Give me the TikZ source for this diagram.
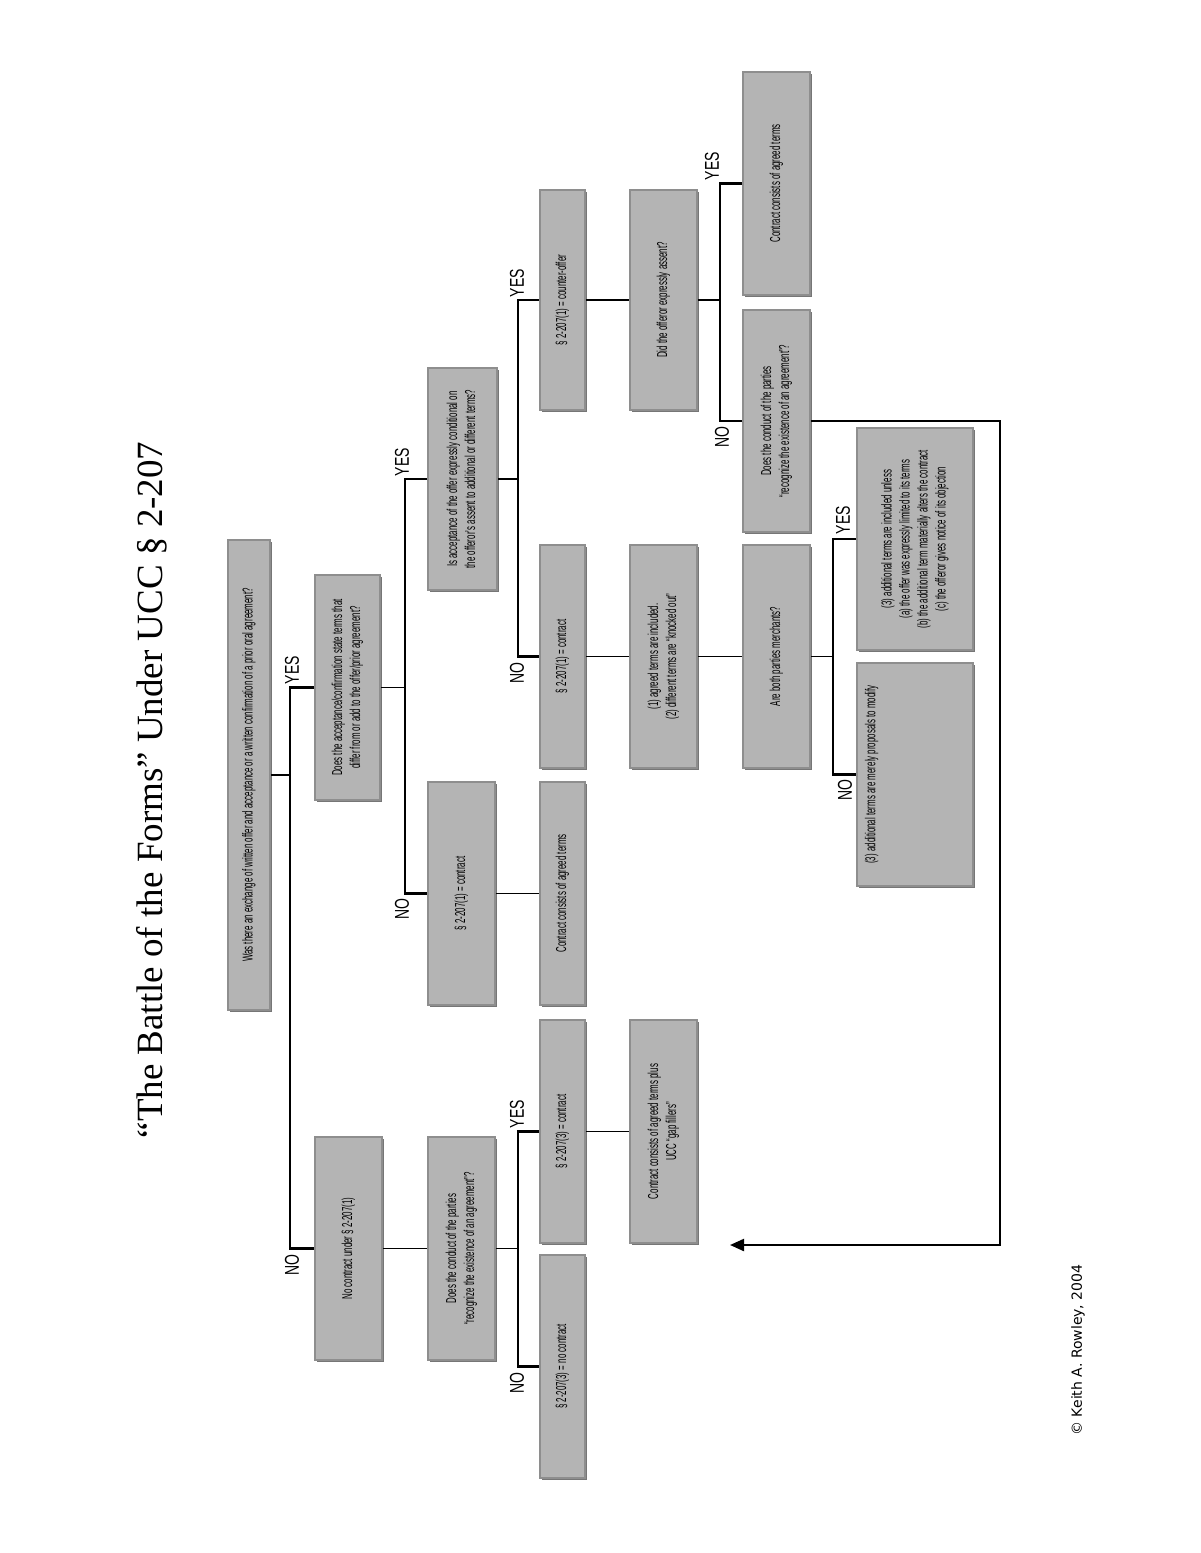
\documentclass[tikz,border=0pt]{standalone}
\usepackage{fontspec}
\usepackage{graphicx}
\usetikzlibrary{arrows.meta,shadows}
\newfontfamily\boxfam[FakeStretch=0.55]{Liberation Sans}
\newfontfamily\ynfam[FakeStretch=0.7]{Liberation Sans}
\newfontfamily\titlefam{Liberation Serif}
\newfontfamily\dvfam{DejaVu Sans}
\newcommand{\boxfont}{\boxfam\fontsize{7.2}{9}\selectfont}
\definecolor{boxfill}{HTML}{B4B4B4}
\definecolor{boxedge}{HTML}{8E8E8E}
\definecolor{boxshade}{HTML}{767676}
\newcommand{\bx}[6]{\node[box, minimum width={(#4-#2)*0.5pt}, minimum height={(#5-#3)*0.5pt}] (#1) at ({(#2+#4)/2},{(#3+#5)/2}) {\rotatebox{90}{\begin{tabular}{@{}c@{}}#6\end{tabular}}};}
\begin{document}
\begin{tikzpicture}[x=0.5pt,y=-0.5pt,
  box/.style={draw=boxedge, line width=0.8pt, fill=boxfill, inner sep=0pt, font=\boxfont,
    drop shadow={shadow xshift=0.9pt, shadow yshift=-0.9pt, fill=boxshade, opacity=1}},
  conn/.style={draw=black, line width=0.6pt},
  bracket/.style={draw=black, line width=1.1pt},
  yn/.style={rotate=90, inner sep=0pt, font=\ynfam\fontsize{10}{11}\selectfont}]
\useasboundingbox (0,0) rectangle (1200,1553);
\fill[white] (0,0) rectangle (1200,1553);
% title and credit
\node[rotate=90, font=\titlefam\fontsize{18.5}{21}\selectfont] (title) at (152,790) {“The Battle of the Forms” Under UCC § 2-207};
\node[rotate=90, font=\dvfam\fontsize{7}{8}\selectfont] (credit) at (1078,1350) {© Keith A. Rowley, 2004};
% boxes
\bx{q1}{228}{540}{270}{1010}{Was there an exchange of written offer and acceptance or a written confirmation of a prior oral agreement?}
\bx{q2}{315}{575}{380}{800}{Does the acceptance/confirmation state terms that\\differ from or add to the offer/prior agreement?}
\bx{q3}{428}{782}{495}{1005}{§ 2-207(1) = contract}
\bx{q4}{540}{782}{585}{1005}{Contract consists of agreed terms}
\bx{q5}{428}{368}{497}{590}{Is acceptance of the offer expressly conditional on\\the offeror’s assent to additional or different terms?}
\bx{q6}{540}{545}{585}{768}{§ 2-207(1) = contract}
\bx{q7}{630}{545}{697}{768}{(1) agreed terms are included.\\(2) different terms are “knocked out”}
\bx{q8}{743}{545}{810}{768}{Are both parties merchants?}
\node[box, minimum width={(973-857)*0.5pt}, minimum height={(886-663)*0.5pt}] (q9) at ({(857+973)/2},{(663+886)/2}) {\rotatebox{90}{\parbox[c][54pt][t]{110pt}{\centering\vspace{2pt}(3) additional terms are merely proposals to modify}}};
\bx{q10}{857}{428}{973}{650}{(3) additional terms are included unless\\(a) the offer was expressly limited to its terms\\(b) the additional term materially alters the contract\\(c) the offeror gives notice of its objection}
\bx{q11}{540}{190}{585}{410}{§ 2-207(1) = counter-offer}
\bx{q12}{630}{190}{697}{410}{Did the offeror expressly assent?}
\bx{q13}{743}{310}{810}{532}{Does the conduct of the parties\\“recognize the existence of an agreement”?}
\bx{q14}{743}{72}{810}{295}{Contract consists of agreed terms}
\bx{q15}{315}{1137}{382}{1360}{No contract under § 2-207(1)}
\bx{q16}{428}{1137}{495}{1360}{Does the conduct of the parties\\“recognize the existence of an agreement”?}
\bx{q17}{540}{1255}{585}{1478}{§ 2-207(3) = no contract}
\bx{q18}{540}{1020}{585}{1243}{§ 2-207(3) = contract}
\bx{q19}{630}{1020}{697}{1243}{Contract consists of agreed terms plus\\UCC “gap fillers”}
% junction points
\coordinate (j1) at (290,775);
\coordinate (j2) at (405,687.5);
\coordinate (j3) at (518,479);
\coordinate (j4) at (833,656.5);
\coordinate (j5) at (720,300);
\coordinate (j6) at (518,1248.5);
\coordinate (rt) at (1000,1245);
\coordinate (arr) at (730,1245);
% connectors
\draw[conn] (q1.east) -- (j1);
\draw[bracket, line width=1.4pt] (q2.west) -- (q2.west -| j1) -- (q15.west -| j1) -- (q15.west);
\draw[conn] (q2.east) -- (j2);
\draw[bracket] (q5.west) -- (q5.west -| j2) -- (q3.west -| j2) -- (q3.west);
\draw[conn] (q3.east) -- (q4.west);
\draw[conn] (q5.east) -- (j3);
\draw[bracket] (q11.west) -- (q11.west -| j3) -- (q6.west -| j3) -- (q6.west);
\draw[conn] (q6.east) -- (q7.west);
\draw[conn] (q7.east) -- (q8.west);
\draw[conn] (q8.east) -- (j4);
\draw[bracket] (q10.west) -- (q10.west -| j4) -- (q9.west -| j4) -- (q9.west);
\draw[conn] (q11.east) -- (q12.west);
\draw[conn] (q12.east) -- (j5);
\draw[bracket] (q14.west) -- (q14.west -| j5) -- (q13.west -| j5) -- (q13.west);
\draw[bracket, -{Triangle[length=7pt,width=6pt]}] (q13.east) -- (q13.east -| rt) -- (rt) -- (arr);
\draw[conn] (q15.east) -- (q16.west);
\draw[conn] (q16.east) -- (j6);
\draw[bracket] (q18.west) -- (q18.west -| j6) -- (q17.west -| j6) -- (q17.west);
\draw[conn] (q18.east) -- (q19.west);
% labels
\node[yn] (y1) at (292,670) {YES};
\node[yn] (n1) at (292,1265) {NO};
\node[yn] (y2) at (402,462) {YES};
\node[yn] (n2) at (402,909) {NO};
\node[yn] (y3) at (517,283) {YES};
\node[yn] (n3) at (517,673) {NO};
\node[yn] (y4) at (843,520) {YES};
\node[yn] (n4) at (845,790) {NO};
\node[yn] (y5) at (712,166) {YES};
\node[yn] (n5) at (722,437) {NO};
\node[yn] (y6) at (517,1114) {YES};
\node[yn] (n6) at (517,1383) {NO};
\end{tikzpicture}
\end{document}
